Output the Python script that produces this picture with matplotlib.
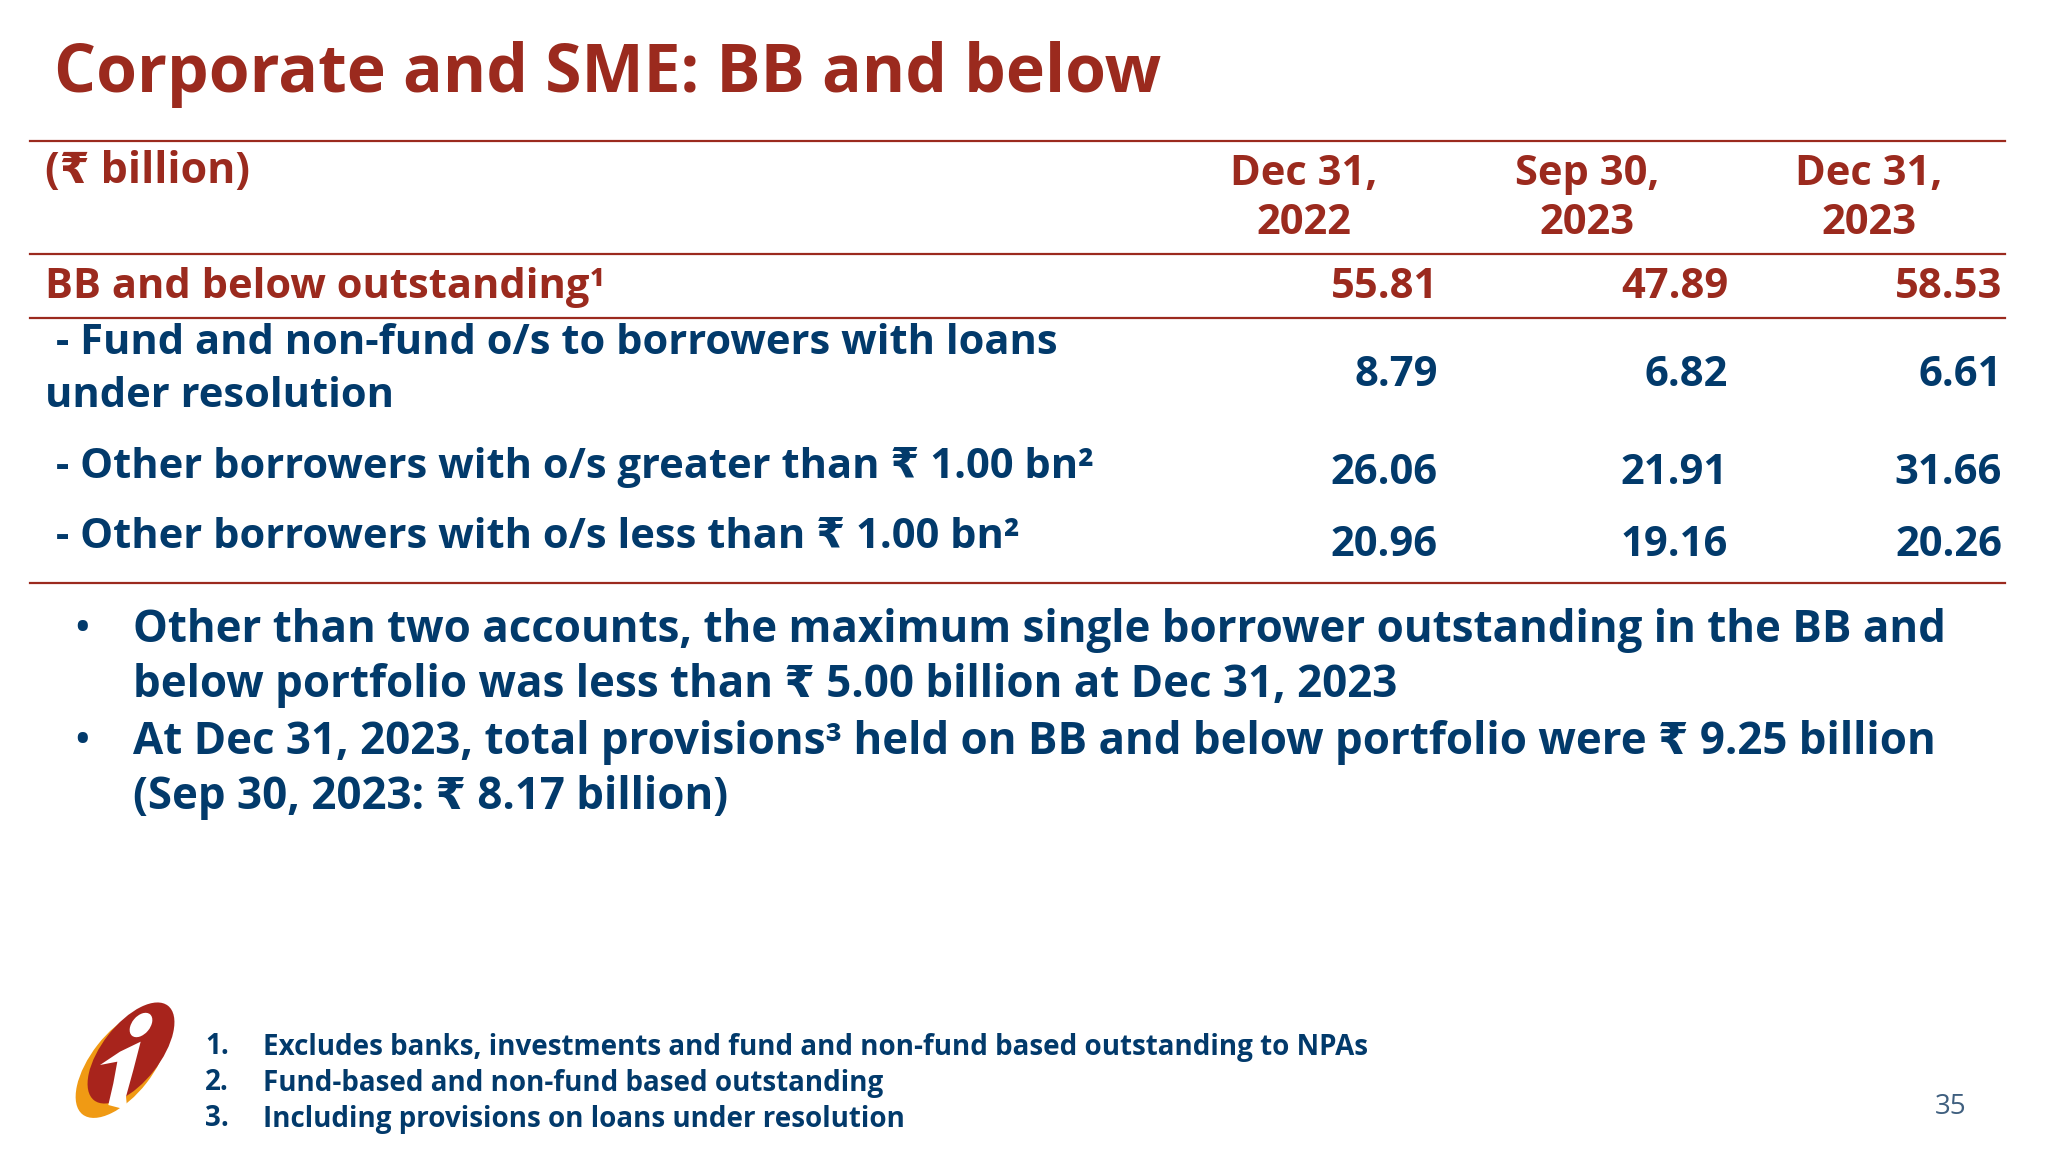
import matplotlib
matplotlib.use("Agg")
import matplotlib.pyplot as plt
from matplotlib.patches import Ellipse, Polygon

plt.rcParams["font.family"] = ["Open Sans", "DejaVu Sans"]

RED = "#9B2A1E"
NAVY = "#023A6B"

periods = ["Dec 31,\n2022", "Sep 30,\n2023", "Dec 31,\n2023"]
row_labels = [
    "BB and below outstanding¹",
    " - Fund and non-fund o/s to borrowers with loans\nunder resolution",
    " - Other borrowers with o/s greater than ₹ 1.00 bn²",
    " - Other borrowers with o/s less than ₹ 1.00 bn²",
]
total_row = ["55.81", "47.89", "58.53"]
resolution_row = ["8.79", "6.82", "6.61"]
greater_row = ["26.06", "21.91", "31.66"]
less_row = ["20.96", "19.16", "20.26"]
bullets = [
    "Other than two accounts, the maximum single borrower outstanding in the BB and\nbelow portfolio was less than ₹ 5.00 billion at Dec 31, 2023",
    "At Dec 31, 2023, total provisions³ held on BB and below portfolio were ₹ 9.25 billion\n(Sep 30, 2023: ₹ 8.17 billion)",
]
footnotes = [
    "Excludes banks, investments and fund and non-fund based outstanding to NPAs",
    "Fund-based and non-fund based outstanding",
    "Including provisions on loans under resolution",
]

fig = plt.figure(figsize=(20.48, 11.52), dpi=100)
ax = fig.add_axes([0, 0, 1, 1])
ax.set_xlim(0, 2048)
ax.set_ylim(1152, 0)
ax.axis("off")

ax.text(54, 74, "Corporate and SME: BB and below", color=RED, fontsize=47.5,
        fontweight="bold", va="center")

# table rules
for y in [141, 253.5, 317.5, 583]:
    ax.plot([30, 2005], [y, y], color=RED, lw=1.6)

ax.text(45, 172, "(₹ billion)", color=RED, fontsize=31, fontweight="bold", va="center")

col_centers = [1304, 1587, 1869]
col_rights = [1438, 1728, 2002]
for x, p in zip(col_centers, periods):
    ax.text(x, 199, p, color=RED, fontsize=30, fontweight="bold", ha="center",
            va="center", linespacing=1.25)

rows = [total_row, resolution_row, greater_row, less_row]
label_y = [288, 370, 467, 538]
value_y = [288, 376, 473, 545]
row_colors = [RED, NAVY, NAVY, NAVY]
for label, vals, ly, vy, c in zip(row_labels, rows, label_y, value_y, row_colors):
    ax.text(45, ly, label, color=c, fontsize=30, fontweight="bold", va="center",
            linespacing=1.4)
    for x, v in zip(col_rights, vals):
        ax.text(x, vy, v, color=c, fontsize=30, fontweight="bold", ha="right", va="center")

# bullet points
for y, b in zip([658, 770], bullets):
    ax.text(82, y - 28, "•", color=NAVY, fontsize=26, fontweight="bold", ha="center", va="center")
    ax.text(133, y, b, color=NAVY, fontsize=31.6, fontweight="bold", va="center", linespacing=1.3)

# footnotes
for i, (y, f) in enumerate(zip([1047, 1083, 1119], footnotes)):
    ax.text(205, y, f"{i + 1}.", color=NAVY, fontsize=20, fontweight="bold", va="center")
    ax.text(263, y, f, color=NAVY, fontsize=20, fontweight="bold", va="center")

ax.text(1966, 1107, "35", color="#3F5F7F", fontsize=20, ha="right", va="center")

# logo
ax.add_patch(Ellipse((122, 1064), 128, 62, angle=-52, color="#F09A14", lw=0))
ax.add_patch(Ellipse((131, 1053), 120, 58, angle=-52, color="#A8241C", lw=0))
ax.add_patch(Ellipse((141, 1025), 28, 18, angle=-50, color="white", lw=0))
stem = [(180, 225), (240, 185), (302, 155), (280, 240), (258, 320), (262, 360),
        (205, 345), (220, 280), (232, 215)]
ax.add_patch(Polygon([(40 + px / 3, 990 + py / 3) for px, py in stem], color="white", lw=0))

fig.savefig("out.png", dpi=100)
